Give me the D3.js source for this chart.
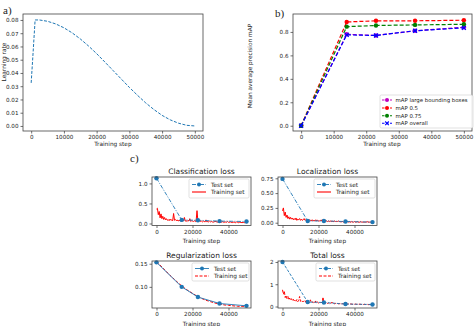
<!DOCTYPE html>
<html>
<head>
<meta charset="utf-8">
<script src="https://cdn.jsdelivr.net/npm/d3@7"></script>
<style>
body { margin: 0; background: #fff; }
</style>
</head>
<body>
<div id="wrapper"></div>
<script>
// a) learning rate schedule
const lrSteps = [0, 600, 1200, 2500, 5000, 7500, 10000, 12500, 15000, 17500, 20000, 22500, 25000,
    27500, 30000, 32500, 35000, 37500, 40000, 42500, 45000, 47500, 50000];
const lrValues = [0.0325, 0.056, 0.080, 0.0800, 0.0790, 0.0770, 0.0741, 0.0703, 0.0657, 0.0604, 0.0546,
    0.0483, 0.0419, 0.0355, 0.0291, 0.0231, 0.0174, 0.0124, 0.0080, 0.0046, 0.0021, 0.0005, 0.0000];

// b) mAP
const mapSteps = [0, 14000, 23000, 35000, 50000];
const mapLarge = [0, 0.78, 0.77, 0.81, 0.84];
const map50 = [0, 0.885, 0.895, 0.895, 0.9];
const map75 = [0, 0.845, 0.855, 0.86, 0.865];
const mapOverall = [0, 0.775, 0.77, 0.81, 0.835];
const mapLabels = ["mAP large bounding boxes", "mAP 0.5", "mAP 0.75", "mAP overall"];

// c) losses, test set evaluated at the mAP steps
const testSteps = [0, 14000, 23000, 35000, 50000];
const clsTest = [1.13, 0.09, 0.08, 0.06, 0.05];
const locTest = [0.74, 0.03, 0.03, 0.02, 0.01];
const regTest = [0.153, 0.100, 0.078, 0.064, 0.059];
const totTest = [2.0, 0.2, 0.18, 0.11, 0.09];

// training set, one value every 500 steps
const trainSteps = d3.range(0, 50001, 500);
const clsTrain = [
    0.36, 0.38, 0.22, 0.3, 0.14, 0.24, 0.12, 0.18, 0.1, 0.15, 0.09,
    0.12, 0.08, 0.1, 0.07, 0.11, 0.08, 0.09, 0.07, 0.25, 0.08,
    0.1, 0.07, 0.09, 0.06, 0.08, 0.07, 0.1, 0.06, 0.08, 0.07,
    0.15, 0.06, 0.07, 0.05, 0.08, 0.06, 0.12, 0.05, 0.07, 0.06,
    0.05, 0.07, 0.05, 0.06, 0.32, 0.06, 0.05, 0.07, 0.05, 0.06,
    0.04, 0.06, 0.05, 0.04, 0.09, 0.04, 0.05, 0.04, 0.06, 0.04,
    0.05, 0.04, 0.03, 0.05, 0.04, 0.06, 0.03, 0.04, 0.05, 0.03,
    0.04, 0.03, 0.05, 0.03, 0.04, 0.03, 0.04, 0.03, 0.05, 0.03,
    0.03, 0.04, 0.03, 0.02, 0.04, 0.03, 0.03, 0.02, 0.04, 0.03,
    0.02, 0.03, 0.03, 0.02, 0.03, 0.02, 0.03, 0.02, 0.03, 0.02];
const locTrain = [
    0.2, 0.25, 0.12, 0.18, 0.09, 0.13, 0.07, 0.1, 0.06, 0.09, 0.06,
    0.08, 0.05, 0.07, 0.05, 0.08, 0.04, 0.06, 0.05, 0.07, 0.04,
    0.06, 0.04, 0.05, 0.07, 0.04, 0.05, 0.04, 0.06, 0.03, 0.05,
    0.04, 0.03, 0.05, 0.03, 0.04, 0.03, 0.05, 0.03, 0.04, 0.03,
    0.03, 0.04, 0.03, 0.05, 0.03, 0.03, 0.02, 0.04, 0.03, 0.02,
    0.03, 0.02, 0.03, 0.02, 0.03, 0.02, 0.02, 0.03, 0.02, 0.02,
    0.02, 0.03, 0.02, 0.02, 0.01, 0.02, 0.02, 0.01, 0.02, 0.02,
    0.01, 0.02, 0.01, 0.02, 0.01, 0.01, 0.02, 0.01, 0.01, 0.02,
    0.01, 0.01, 0.02, 0.01, 0.01, 0.01, 0.02, 0.01, 0.01, 0.01,
    0.01, 0.01, 0.01, 0.02, 0.01, 0.01, 0.01, 0.01, 0.01, 0.01];
const totTrain = [
    0.75, 0.55, 0.7, 0.4, 0.5, 0.35, 0.45, 0.3, 0.38, 0.28, 0.35,
    0.27, 0.33, 0.25, 0.3, 0.24, 0.32, 0.22, 0.28, 0.45, 0.23,
    0.27, 0.21, 0.25, 0.2, 0.26, 0.19, 0.24, 0.2, 0.22, 0.18,
    0.3, 0.18, 0.21, 0.17, 0.22, 0.16, 0.25, 0.17, 0.2, 0.16,
    0.18, 0.15, 0.19, 0.16, 0.42, 0.15, 0.17, 0.14, 0.18, 0.14,
    0.16, 0.13, 0.15, 0.14, 0.2, 0.13, 0.15, 0.12, 0.14, 0.13,
    0.14, 0.12, 0.13, 0.12, 0.14, 0.11, 0.13, 0.12, 0.12, 0.11,
    0.12, 0.11, 0.12, 0.1, 0.12, 0.11, 0.11, 0.1, 0.12, 0.1,
    0.11, 0.1, 0.1, 0.09, 0.11, 0.1, 0.1, 0.09, 0.1, 0.09,
    0.1, 0.09, 0.09, 0.1, 0.09, 0.08, 0.09, 0.08, 0.09, 0.08];
// regularization training loss is smooth, every 2500 steps
const regSteps = d3.range(0, 50001, 2500);
const regTrain = [0.154, 0.145, 0.135, 0.125, 0.116, 0.107, 0.099, 0.092, 0.086, 0.080, 0.075,
    0.071, 0.068, 0.065, 0.063, 0.061, 0.060, 0.059, 0.058, 0.058, 0.058];

const blue = "#1f77b4";
const svg = d3.select("#wrapper").append("svg").attr("width", 474).attr("height", 326);

function panel(box, xDom, yDom) {
    const x = d3.scaleLinear().domain(xDom).range([box.x0, box.x1]);
    const y = d3.scaleLinear().domain(yDom).range([box.y1, box.y0]);
    return {box, x, y};
}

// ticks, tick labels and the frame of one axes
function drawAxes(p, xTicks, yTicks, yFmt) {
    const xa = svg.append("g").attr("transform", `translate(0,${p.box.y1})`)
        .call(d3.axisBottom(p.x).tickValues(xTicks).tickFormat(d3.format("d")).tickSize(2.5).tickPadding(2));
    const ya = svg.append("g").attr("transform", `translate(${p.box.x0},0)`)
        .call(d3.axisLeft(p.y).tickValues(yTicks).tickFormat(yFmt).tickSize(2.5).tickPadding(2));
    [xa, ya].forEach(a => {
        a.select(".domain").remove();
        a.selectAll("line").attr("stroke", "#333").attr("stroke-width", 0.7);
        a.selectAll("text").attr("font-size", 5.6).attr("fill", "#222").attr("font-family", "DejaVu Sans");
    });
    svg.append("rect")
        .attr("x", p.box.x0).attr("y", p.box.y0)
        .attr("width", p.box.x1 - p.box.x0).attr("height", p.box.y1 - p.box.y0)
        .attr("fill", "none").attr("stroke", "#444").attr("stroke-width", 0.8);
}

function drawLine(p, steps, vals, color, dash, width) {
    const line = d3.line().x((d, i) => p.x(steps[i])).y(d => p.y(d));
    svg.append("path").attr("d", line(vals))
        .attr("fill", "none").attr("stroke", color)
        .attr("stroke-width", width || 1)
        .attr("stroke-dasharray", dash || null);
}

function drawDots(p, steps, vals, color, r) {
    svg.append("g").selectAll("circle").data(vals).join("circle")
        .attr("cx", (d, i) => p.x(steps[i])).attr("cy", d => p.y(d))
        .attr("r", r).attr("fill", color);
}

function drawCross(p, steps, vals, color) {
    svg.append("g").selectAll("path").data(vals).join("path")
        .attr("d", (d, i) => {
            const cx = p.x(steps[i]), cy = p.y(d), s = 2;
            return `M${cx - s},${cy - s}L${cx + s},${cy + s}M${cx - s},${cy + s}L${cx + s},${cy - s}`;
        })
        .attr("stroke", color).attr("stroke-width", 1.2);
}

function text(x, y, str, size, opts) {
    opts = opts || {};
    const t = svg.append("text").attr("x", x).attr("y", y).text(str)
        .attr("font-size", size).attr("fill", "#222")
        .attr("font-family", opts.family || "DejaVu Sans")
        .attr("text-anchor", opts.anchor || "middle")
        .attr("dominant-baseline", "central");
    if (opts.rotate) t.attr("transform", `rotate(-90,${x},${y})`);
    return t;
}

// entries: {label, color, dash, marker}
function drawLegend(box, entries, rowY, handleX, textX, fs) {
    svg.append("rect").attr("x", box.x).attr("y", box.y).attr("width", box.w).attr("height", box.h)
        .attr("rx", 1.5).attr("fill", "#fff").attr("fill-opacity", 0.85)
        .attr("stroke", "#ccc").attr("stroke-width", 0.6);
    entries.forEach((e, i) => {
        const y = rowY[i];
        svg.append("line").attr("x1", handleX[0]).attr("x2", handleX[1]).attr("y1", y).attr("y2", y)
            .attr("stroke", e.color).attr("stroke-width", e.width || 1.1)
            .attr("stroke-dasharray", e.dash || null);
        const mx = (handleX[0] + handleX[1]) / 2;
        if (e.marker === "o") {
            svg.append("circle").attr("cx", mx).attr("cy", y).attr("r", 2).attr("fill", e.color);
        } else if (e.marker === "x") {
            svg.append("path").attr("d", `M${mx - 1.8},${y - 1.8}L${mx + 1.8},${y + 1.8}M${mx - 1.8},${y + 1.8}L${mx + 1.8},${y - 1.8}`)
                .attr("stroke", e.color).attr("stroke-width", 1.1);
        }
        text(textX, y, e.label, fs, {anchor: "start"});
    });
}

const stepTicks = [0, 10000, 20000, 30000, 40000, 50000];
const serif = {family: "Liberation Serif", anchor: "start"};

// ---- a) learning rate ----
const pa = panel({x0: 23, x1: 203, y0: 14, y1: 131}, [-2500, 52500], [-0.0038, 0.0845]);
drawLine(pa, lrSteps, lrValues, blue, "3,1.5", 1);
drawAxes(pa, stepTicks, d3.range(0, 0.081, 0.01), d3.format(".2f"));
text(113, 144, "Training step", 5.8);
text(3.5, 62, "Learning rate", 5.8, {rotate: true});
text(3, 10, "a)", 11, serif);

// ---- b) mAP ----
const pb = panel({x0: 293, x1: 472, y0: 14, y1: 131}, [-2500, 52500], [-0.045, 0.953]);
const mapSeries = [
    {vals: mapLarge, color: "#bf00bf", marker: "o"},
    {vals: map50, color: "#ff0000", marker: "o"},
    {vals: map75, color: "#008000", marker: "o"},
    {vals: mapOverall, color: "#0000ff", marker: "x"}
];
mapSeries.forEach(s => {
    drawLine(pb, mapSteps, s.vals, s.color, "4,2", 1.2);
    if (s.marker === "o") drawDots(pb, mapSteps, s.vals, s.color, 2.2);
    else drawCross(pb, mapSteps, s.vals, s.color);
});
drawAxes(pb, stepTicks, [0, 0.2, 0.4, 0.6, 0.8], d3.format(".1f"));
text(382, 144, "Training step", 5.8);
text(250, 66, "Mean average precision mAP", 5.8, {rotate: true});
text(275, 13, "b)", 11, serif);
drawLegend({x: 380, y: 95, w: 93, h: 33},
    mapSeries.map((s, i) => ({label: mapLabels[i], color: s.color, dash: "2.5,1.5", marker: s.marker})),
    [100, 108, 115.7, 123.3], [382, 392], 395.5, 5.4);

// ---- c) losses ----
text(130, 158, "c)", 11, serif);
const lossTicks = [0, 20000, 40000];
const dashDot = "4,1.5,1,1.5";

function lossPanel(box, yDom, yTicks, yFmt, title, test, train, tSteps, testDash, trainDash, legBox) {
    const p = panel(box, [-2500, 52500], yDom);
    drawLine(p, tSteps, train, "#ff0000", trainDash, 1);
    drawLine(p, testSteps, test, blue, testDash, 0.9);
    drawDots(p, testSteps, test, blue, 2.2);
    drawAxes(p, lossTicks, yTicks, yFmt);
    const cx = (box.x0 + box.x1) / 2;
    text(cx, box.y0 - 5.5, title, 7.5);
    text(cx, box.y1 + 15.5, "Training step", 5.8);
    drawLegend(legBox, [
        {label: "Test set", color: blue, dash: testDash, marker: "o", width: 0.9},
        {label: "Training set", color: "#ff0000", dash: trainDash, width: 1.1}
    ], [legBox.y + 5.5, legBox.y + 13], [legBox.x + 3, legBox.x + 17], legBox.x + 22, 5.8);
}

lossPanel({x0: 152, x1: 251, y0: 177, y1: 225.5}, [-0.05, 1.16], [0, 0.5, 1.0], d3.format(".1f"),
    "Classification loss", clsTest, clsTrain, trainSteps, dashDot, null, {x: 189, y: 179, w: 60, h: 19});
lossPanel({x0: 278, x1: 377, y0: 177, y1: 225.5}, [-0.047, 0.772], [0, 0.25, 0.5, 0.75], d3.format(".2f"),
    "Localization loss", locTest, locTrain, trainSteps, dashDot, null, {x: 314, y: 179, w: 61, h: 19});
lossPanel({x0: 152, x1: 251, y0: 261, y1: 308}, [0.0543, 0.1559], [0.10, 0.15], d3.format(".2f"),
    "Regularization loss", regTest, regTrain, regSteps, null, "3,1.5", {x: 192, y: 263, w: 57, h: 18});
lossPanel({x0: 278, x1: 377, y0: 261, y1: 308}, [-0.067, 2.044], [0, 1, 2], d3.format("d"),
    "Total loss", totTest, totTrain, trainSteps, "3,1.5", "3,1.5", {x: 316, y: 263, w: 59, h: 18});
</script>
</body>
</html>
